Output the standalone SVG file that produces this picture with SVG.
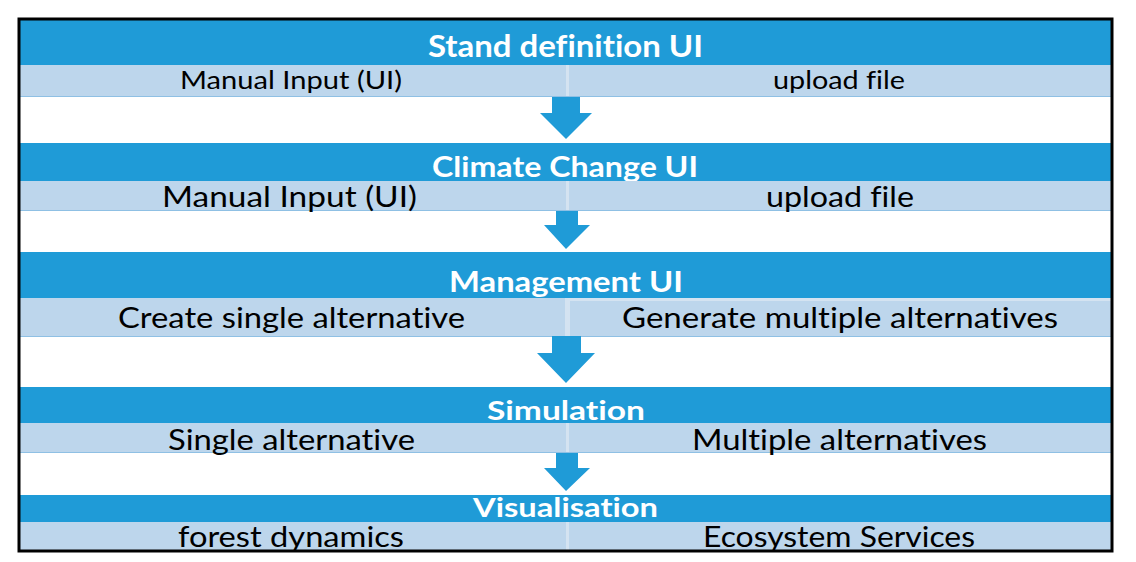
<svg xmlns="http://www.w3.org/2000/svg" width="1136" height="562" viewBox="0 0 1136 562">
<style>
.hdr{fill:#1F9BD7}
.rowbg{fill:#D4E3F1}
.cell{fill:#BDD6EC}
.edge{stroke:#8FC0E4;stroke-width:1}
.title{font-family:Lato,"Open Sans",sans-serif;font-weight:bold;fill:#FFFFFF;font-variant-ligatures:none}
.lbl{font-family:Lato,"Open Sans",sans-serif;fill:#000000;font-variant-ligatures:none}
.arrow{fill:#1F9BD7}
</style>
<rect x="0" y="0" width="1136" height="562" fill="#FFFFFF"/>

<g id="stand-definition">
<rect class="hdr" x="20" y="20" width="1092" height="45"/>
<text class="title" x="428" y="57" font-size="31" textLength="275" lengthAdjust="spacingAndGlyphs">Stand definition UI</text>
<rect class="rowbg" x="20" y="65" width="1092" height="32"/>
<rect class="cell" x="20" y="65" width="546" height="32"/>
<rect class="cell" x="569" y="65" width="543" height="32"/>
<line class="edge" x1="20" y1="96.5" x2="1112" y2="96.5"/>
<text class="lbl" x="180" y="89" font-size="25" textLength="222" lengthAdjust="spacingAndGlyphs">Manual Input (UI)</text>
<text class="lbl" x="773" y="89" font-size="25" textLength="132" lengthAdjust="spacingAndGlyphs">upload file</text>
</g>

<g id="climate-change">
<rect class="hdr" x="20" y="143" width="1092" height="38"/>
<text class="title" x="432" y="177" font-size="28" textLength="266" lengthAdjust="spacingAndGlyphs">Climate Change UI</text>
<rect class="rowbg" x="20" y="181" width="1092" height="30"/>
<rect class="cell" x="20" y="181" width="546" height="30"/>
<rect class="cell" x="569" y="181" width="543" height="30"/>
<line class="edge" x1="20" y1="210.5" x2="1112" y2="210.5"/>
<text class="lbl" x="162" y="207" font-size="29" textLength="255" lengthAdjust="spacingAndGlyphs">Manual Input (UI)</text>
<text class="lbl" x="766" y="207" font-size="29" textLength="148" lengthAdjust="spacingAndGlyphs">upload file</text>
</g>

<g id="management">
<rect class="hdr" x="20" y="252" width="1092" height="48"/>
<text class="title" x="449" y="292" font-size="28" textLength="234" lengthAdjust="spacingAndGlyphs">Management UI</text>
<rect class="rowbg" x="20" y="298" width="1092" height="39"/>
<rect class="cell" x="20" y="298" width="545" height="39"/>
<rect class="cell" x="570" y="301" width="542" height="36"/>
<line class="edge" x1="20" y1="336.5" x2="1112" y2="336.5"/>
<text class="lbl" x="118" y="328" font-size="29" textLength="347" lengthAdjust="spacingAndGlyphs">Create single alternative</text>
<text class="lbl" x="622" y="328" font-size="29" textLength="436" lengthAdjust="spacingAndGlyphs">Generate multiple alternatives</text>
</g>

<g id="simulation">
<rect class="hdr" x="20" y="387" width="1092" height="36"/>
<text class="title" x="487" y="420" font-size="27" textLength="158" lengthAdjust="spacingAndGlyphs">Simulation</text>
<rect class="rowbg" x="20" y="423" width="1092" height="30"/>
<rect class="cell" x="20" y="423" width="546" height="30"/>
<rect class="cell" x="569" y="423" width="543" height="30"/>
<line class="edge" x1="20" y1="452.5" x2="1112" y2="452.5"/>
<text class="lbl" x="168" y="450" font-size="28" textLength="247" lengthAdjust="spacingAndGlyphs">Single alternative</text>
<text class="lbl" x="692" y="450" font-size="28" textLength="295" lengthAdjust="spacingAndGlyphs">Multiple alternatives</text>
</g>

<g id="visualisation">
<rect class="hdr" x="20" y="495" width="1092" height="27"/>
<text class="title" x="473" y="517" font-size="27" textLength="185" lengthAdjust="spacingAndGlyphs">Visualisation</text>
<rect class="rowbg" x="20" y="522" width="1092" height="29"/>
<rect class="cell" x="20" y="522" width="546" height="29"/>
<rect class="cell" x="569" y="522" width="543" height="29"/>
<text class="lbl" x="178" y="547" font-size="28" textLength="226" lengthAdjust="spacingAndGlyphs">forest dynamics</text>
<text class="lbl" x="703" y="547" font-size="28" textLength="272" lengthAdjust="spacingAndGlyphs">Ecosystem Services</text>
</g>

<g id="connectors">
<polygon class="arrow" points="552,97 580,97 580,113 592,113 566,139 540,113 552,113"/>
<polygon class="arrow" points="556,211 578,211 578,225 590,225 566,249 544,225 556,225"/>
<polygon class="arrow" points="552,336 581,336 581,353 595,353 566,383 537,353 552,353"/>
<polygon class="arrow" points="556,453 578,453 578,468 590,468 566,491 544,468 556,468"/>
</g>

<rect x="19" y="19" width="1093" height="532" fill="none" stroke="#000000" stroke-width="3"/>
</svg>
